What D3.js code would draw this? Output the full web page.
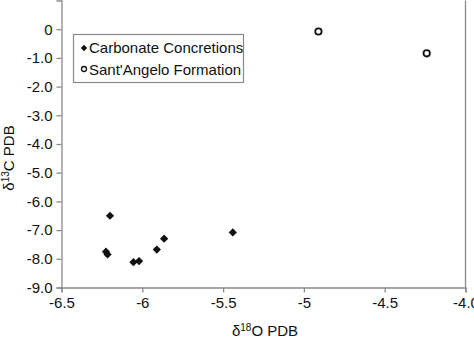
<!DOCTYPE html>
<html><head><meta charset="utf-8">
<script src="https://cdn.jsdelivr.net/npm/d3@7"></script>
<style>body{margin:0;background:#fff}svg{display:block}text{font-family:"Liberation Sans",Arial,Helvetica,sans-serif}</style>
</head><body>
<script>
const concretionsX = [-6.20, -6.225, -6.215, -6.055, -6.02, -5.91, -5.865, -5.44];
const concretionsY = [-6.5, -7.75, -7.85, -8.12, -8.08, -7.68, -7.3, -7.08];
const santAngeloX = [-4.91, -4.24];
const santAngeloY = [-0.08, -0.84];
const xTicks = [-6.5, -6, -5.5, -5, -4.5, -4.0];
const xTickLabels = ["-6.5", "-6", "-5.5", "-5", "-4.5", "-4.0"];
const yTicks = [0, -1, -2, -3, -4, -5, -6, -7, -8, -9];
const yTickLabels = ["0", "-1.0", "-2.0", "-3.0", "-4.0", "-5.0", "-6.0", "-7.0", "-8.0", "-9.0"];
const seriesNames = ["Carbonate Concretions", "Sant'Angelo Formation"];

const W = 474, H = 338;
const svg = d3.select("body").append("svg").attr("width", W).attr("height", H);
const x = d3.scaleLinear().domain([-6.5, -4.0]).range([61.5, 465.5]);
const y = d3.scaleLinear().domain([-9, 1]).range([287.5, 0.5]);
const axisColor = "#8a8a8a";

svg.append("line").attr("x1", x(-4.0)).attr("x2", x(-4.0)).attr("y1", y(1)).attr("y2", y(-9))
  .attr("stroke", axisColor).attr("stroke-width", 1.3);

const xAxis = svg.append("g").attr("transform", `translate(0,${y(-9)})`)
  .call(d3.axisBottom(x).tickValues(xTicks).tickFormat((d, i) => xTickLabels[i]).tickSize(5).tickPadding(5));
const yAxis = svg.append("g").attr("transform", `translate(${x(-6.5)},0)`)
  .call(d3.axisLeft(y).tickValues(yTicks).tickFormat((d, i) => yTickLabels[i]).tickSize(5).tickPadding(4));
[xAxis, yAxis].forEach(g => {
  g.select(".domain").attr("stroke", axisColor).attr("stroke-width", 1.3);
  g.selectAll(".tick line").attr("stroke", axisColor).attr("stroke-width", 1.3);
  g.selectAll(".tick text").attr("fill", "#111").style("font-size", "15px")
    .style("font-family", '"Liberation Sans",Arial,sans-serif');
});

const xt = svg.append("text").attr("x", 265).attr("y", 336).attr("text-anchor", "middle")
  .style("font-size", "15px").attr("fill", "#111");
xt.append("tspan").text("δ");
xt.append("tspan").text("18").attr("dy", -5).style("font-size", "10px");
xt.append("tspan").text("O PDB").attr("dy", 5);

const yt = svg.append("text").attr("transform", "translate(14,158) rotate(-90)").attr("text-anchor", "middle")
  .style("font-size", "15px").attr("fill", "#111");
yt.append("tspan").text("δ");
yt.append("tspan").text("13").attr("dy", -5).style("font-size", "10px");
yt.append("tspan").text("C PDB").attr("dy", 5);

const diamond = d3.symbol().type(d3.symbolSquare).size(34);
const concretions = concretionsX.map((v, i) => ({x: v, y: concretionsY[i]}));
const sant = santAngeloX.map((v, i) => ({x: v, y: santAngeloY[i]}));

svg.append("g").selectAll("path").data(concretions).join("path")
  .attr("d", diamond).attr("transform", d => `translate(${x(d.x)},${y(d.y)}) rotate(45)`).attr("fill", "#111");
svg.append("g").selectAll("circle").data(sant).join("circle")
  .attr("cx", d => x(d.x)).attr("cy", d => y(d.y)).attr("r", 3.2).attr("fill", "#fff")
  .attr("stroke", "#111").attr("stroke-width", 1.8);

const lg = svg.append("g");
lg.append("rect").attr("x", 73.5).attr("y", 34.5).attr("width", 170).attr("height", 48)
  .attr("fill", "#fff").attr("stroke", axisColor).attr("stroke-width", 1.2);
lg.append("path").attr("d", d3.symbol().type(d3.symbolSquare).size(20)).attr("transform", "translate(84,48) rotate(45)").attr("fill", "#111");
lg.append("circle").attr("cx", 84).attr("cy", 69).attr("r", 2.5).attr("fill", "#fff").attr("stroke", "#111").attr("stroke-width", 1.3);
lg.selectAll("text.l").data(seriesNames).join("text").attr("class", "l")
  .attr("x", 89).attr("y", (d, i) => 53 + i * 21.5).text(d => d)
  .style("font-size", "15px").attr("fill", "#111");
</script>
</body></html>
